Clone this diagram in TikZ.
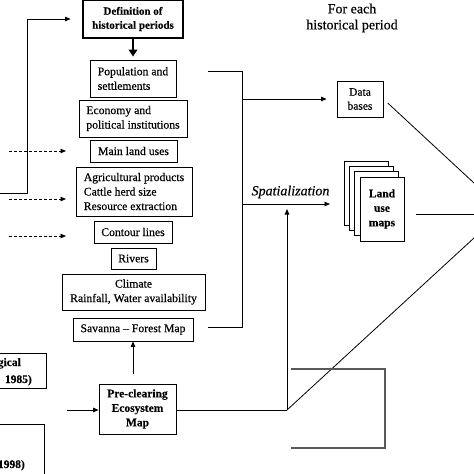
\documentclass[tikz,border=0pt]{standalone}
\usepackage{fontspec}
\setmainfont{Liberation Serif}[UprightFeatures={FakeBold=0.45}, ItalicFeatures={FakeBold=0.35}, BoldFeatures={FakeBold=0.3}]
\usetikzlibrary{arrows.meta}
\begin{document}
\begin{tikzpicture}[x=1pt,y=-1pt,
  txt/.style={font=\fontsize{11.7}{14.5}\selectfont},
  btxt/.style={font=\fontsize{11.5}{14.5}\selectfont\bfseries},
  box/.style={draw, line width=0.8pt, inner sep=0pt, align=center, txt},
  lbox/.style={box, align=left},
  sheet/.style={draw, fill=white, line width=0.8pt, inner sep=0pt, align=center,
    minimum width=44pt, minimum height=64pt, btxt},
  ln/.style={line width=0.8pt},
  arr/.style={line width=0.8pt, -{Triangle[length=5.5pt,width=4.5pt]}},
  darr/.style={arr, dash pattern=on 3pt off 2pt},
  thickarr/.style={line width=2.6pt, -{Triangle[length=7pt,width=8.5pt]}},
  grayln/.style={line width=1.2pt, draw=black!65}
]
\useasboundingbox (0,0) rectangle (474,474);

% left column
\node[box, btxt, line width=2.8pt, minimum width=100pt, minimum height=38pt,
  font=\fontsize{11}{14}\selectfont\bfseries] (def) at (133,19) {Definition of\\historical periods};
\node[lbox, minimum width=86pt, minimum height=37pt] (pop) at (133,78.5) {Population and\\settlements};
\node[lbox, minimum width=108pt, minimum height=37pt] (eco) at (133,118.5) {Economy and\\political institutions};
\node[box, minimum width=87pt, minimum height=22pt] (main) at (133.5,151) {Main land uses};
\node[lbox, minimum width=116pt, minimum height=49pt] (agri) at (134,191.5) {Agricultural products\\Cattle herd size\\Resource extraction};
\node[box, minimum width=78pt, minimum height=22pt] (cont) at (133,232) {Contour lines};
\node[box, minimum width=45pt, minimum height=21pt] (riv) at (133.5,258.5) {Rivers};
\node[box, minimum width=143pt, minimum height=36pt] (clim) at (133.5,292) {Climate\\Rainfall, Water availability};
\node[box, minimum width=120pt, minimum height=23pt] (sav) at (133,329.5) {Savanna -- Forest Map};
\node[box, btxt, minimum width=77pt, minimum height=50pt] (pre) at (137.5,409) {Pre-clearing\\Ecosystem\\Map};

% right side
\node[align=center, font=\fontsize{14}{16}\selectfont] (fe) at (352,18) {For each\\historical period};
\node[box, minimum width=46pt, minimum height=36pt, font=\fontsize{11.5}{14}\selectfont] (data) at (360,99) {Data\\bases};
\node[sheet] (m0) at (366.1,193.1) {};
\node[sheet] (m1) at (371.4,198.4) {};
\node[sheet] (m2) at (376.7,203.7) {};
\node[sheet] (maps) at (382,209) {Land\\use\\maps};
\node[font=\fontsize{14}{16}\selectfont\itshape] (spl) at (290.5,192) {Spatialization};

% partial boxes at left edge
\draw[ln] (-5,353) -- (46,353) -- (46,388) -- (-5,388);
\node[anchor=base east, btxt, inner sep=0pt] (la1) at (21,366) {gical};
\node[anchor=base east, btxt, inner sep=0pt] (la2) at (32,383) {1985)};
\draw[ln] (-5,424) -- (44,424) -- (44,480);
\node[anchor=base east, btxt, inner sep=0pt] (lb1) at (25,468) {1998)};

% coordinates
\coordinate (fbs) at (0,193);
\coordinate (fbk) at (27,193);
\coordinate (d1s) at (9,151);  \coordinate (d1e) at (66,151);
\coordinate (d2s) at (9,199);  \coordinate (d2e) at (66,199);
\coordinate (d3s) at (9,236);  \coordinate (d3e) at (66,236);
\coordinate (pin) at (67,410);
\coordinate (j1) at (287,410);
\coordinate (j2) at (287,209);
\coordinate (b1) at (208,71);
\coordinate (b2) at (242,71);
\coordinate (b3) at (242,327);
\coordinate (b4) at (208,327);
\coordinate (sp) at (242,204);
\coordinate (spe) at (330,204);
\coordinate (r1) at (474,183);
\coordinate (r2) at (474,214);
\coordinate (r3) at (474,238);
\coordinate (g1) at (291,369);
\coordinate (g2) at (385,369);
\coordinate (g3) at (385,448);
\coordinate (g4) at (291,448);

% connectors
\draw[arr, shorten >=11pt] (fbs) -- (fbk) |- (def.west);
\draw[darr] (d1s) -- (d1e);
\draw[darr] (d2s) -- (d2e);
\draw[darr] (d3s) -- (d3e);
\draw[thickarr, shorten >=3pt] (def.south) -- (pop.north);
\draw[arr, shorten <=10pt] (pre.north -| sav.south) -- (sav.south);
\draw[arr] (pin) -- (pin -| pre.west);
\draw[ln] (pre.east |- j1) -- (j1);
\draw[arr] (j1) -- (j2);
\draw[ln] (j1) -- (r3);
\draw[ln] (b1) -- (b2) -- (b3) -- (b4);
\draw[arr, shorten >=10pt] (b2 |- data.west) -- (data.west);
\draw[arr] (sp) -- (spe);
\draw[ln, shorten <=6pt] (data.east) -- (r1);
\draw[ln, shorten <=12pt] (maps.east |- r2) -- (r2);
\draw[grayln] (g1) -- (g2) -- (g3) -- (g4);
\end{tikzpicture}
\end{document}
